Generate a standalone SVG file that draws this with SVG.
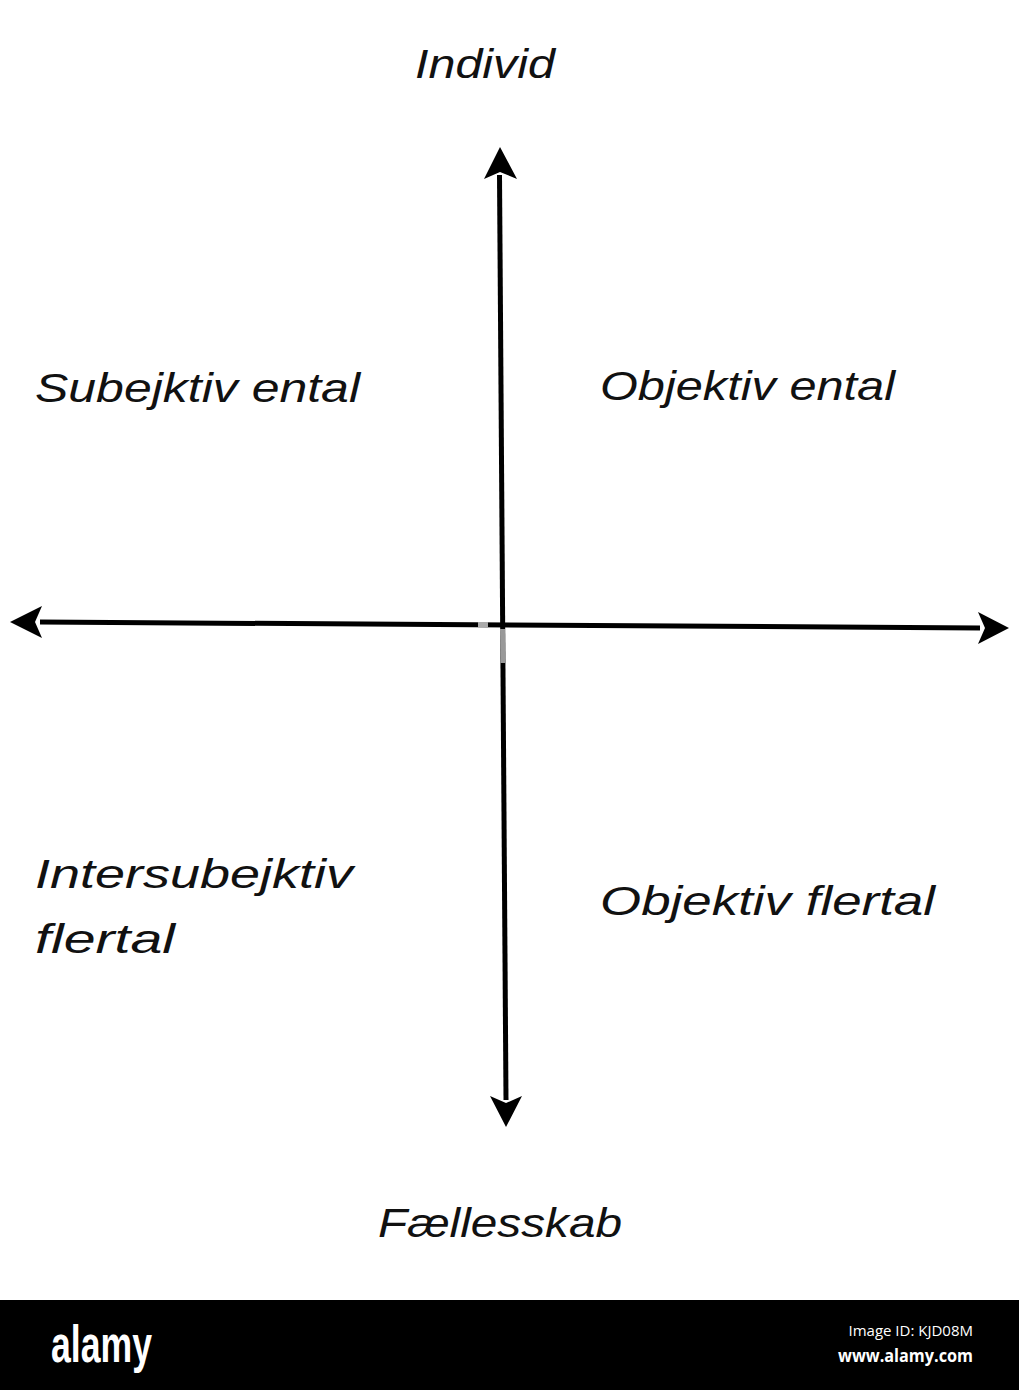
<svg xmlns="http://www.w3.org/2000/svg" width="1019" height="1390" viewBox="0 0 1019 1390">
  <style>
    .hand { font-family: "Liberation Sans", "DejaVu Sans", sans-serif; font-style: italic; font-size: 40px; fill: #111; }
    .axis { stroke: #000; stroke-width: 5; fill: none; stroke-linecap: butt; }
    .head { fill: #000; }
    .wm { font-family: "Open Sans", "Liberation Sans", sans-serif; fill: #fff; }
  </style>
  <rect x="0" y="0" width="1019" height="1300" fill="#fff"/>
  <g id="connectors">
    <line class="axis" x1="499.5" y1="175" x2="506" y2="1100"/>
    <line class="axis" x1="40" y1="622" x2="980" y2="628"/>
    <line x1="502.5" y1="629" x2="503" y2="663" stroke="#999" stroke-width="5"/>
    <line x1="478" y1="624.5" x2="488" y2="624.5" stroke="#aaa" stroke-width="5"/>
    <polygon class="head" points="500,147 517,179 500,172 484,179"/>
    <polygon class="head" points="506,1127 490,1096 506,1103 522,1096"/>
    <polygon class="head" points="10,622 42,606 35,622 42,638"/>
    <polygon class="head" points="1009,628 978,612 985,628 978,644"/>
  </g>
  <g id="individ"><text class="hand" x="415" y="78" textLength="140" lengthAdjust="spacingAndGlyphs">Individ</text></g>
  <g id="subjektiv-ental"><text class="hand" x="35" y="402" textLength="325" lengthAdjust="spacingAndGlyphs">Subejktiv ental</text></g>
  <g id="objektiv-ental"><text class="hand" x="600" y="400" textLength="295" lengthAdjust="spacingAndGlyphs">Objektiv ental</text></g>
  <g id="intersubjektiv-flertal">
    <text class="hand" x="35" y="888" textLength="318" lengthAdjust="spacingAndGlyphs">Intersubejktiv</text>
    <text class="hand" x="35" y="953" textLength="140" lengthAdjust="spacingAndGlyphs">flertal</text>
  </g>
  <g id="objektiv-flertal"><text class="hand" x="600" y="915" textLength="335" lengthAdjust="spacingAndGlyphs">Objektiv flertal</text></g>
  <g id="faellesskab"><text class="hand" x="378" y="1237" textLength="244" lengthAdjust="spacingAndGlyphs">Fællesskab</text></g>
  <g id="watermark">
    <rect x="0" y="1300" width="1019" height="90" fill="#000"/>
    <text class="wm" x="51" y="1362" font-size="52" font-weight="bold" textLength="101" lengthAdjust="spacingAndGlyphs" style="font-family:'Liberation Sans', sans-serif">alamy</text>
    <text class="wm" x="973" y="1336" font-size="15" text-anchor="end">Image ID: KJD08M</text>
    <text class="wm" x="973" y="1362" font-size="17" font-weight="bold" text-anchor="end" textLength="135" lengthAdjust="spacingAndGlyphs">www.alamy.com</text>
  </g>
</svg>
